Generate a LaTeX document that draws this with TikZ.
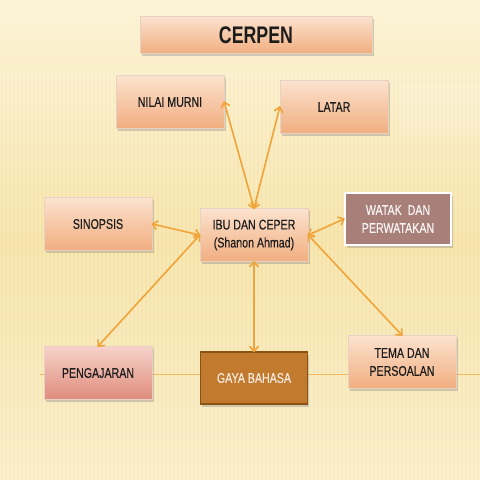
\documentclass[tikz,border=0pt]{standalone}
\usepackage{fontspec}
\setmainfont{Liberation Sans}[FakeStretch=0.76, FakeBold=0.3]
\newfontfamily\titlefont{Liberation Sans Bold}[FakeStretch=0.74]
\usetikzlibrary{arrows.meta,shadows}
\definecolor{bgtop}{HTML}{FCF4D8}
\definecolor{bgmid}{HTML}{F6E1A2}
\definecolor{bgbot}{HTML}{F9ECC4}
\definecolor{peachT}{HTML}{FCE2CE}
\definecolor{peachB}{HTML}{F1AE80}
\definecolor{pinkT}{HTML}{F7D2CA}
\definecolor{pinkB}{HTML}{DF8C7C}
\definecolor{mauve}{HTML}{A98079}
\definecolor{brown}{HTML}{C27A2E}
\definecolor{brownD}{HTML}{8A5314}
\definecolor{arrcol}{HTML}{F0A43A}
\definecolor{txt}{HTML}{1C1C1C}
\tikzset{
  box/.style={rectangle, minimum width=108pt, minimum height=53pt, inner sep=2pt,
    top color=peachT, bottom color=peachB, draw=peachB!80!black!40, line width=0.4pt,
    drop shadow={shadow xshift=1.5pt, shadow yshift=-2.5pt, opacity=0.35},
    text=txt, font=\fontsize{14}{18}\selectfont, align=center},
  pinkbox/.style={box, top color=pinkT, bottom color=pinkB},
  mauvebox/.style={box, fill=mauve, top color=mauve, bottom color=mauve, draw=white, line width=2pt, text=white!92!mauve},
  brownbox/.style={box, top color=brown, bottom color=brown, draw=brownD, line width=1.2pt, text=white!85!brown},
  arr/.style={draw=arrcol, line width=1.6pt, {Straight Barb[length=5pt,width=9pt]}-{Straight Barb[length=5pt,width=9pt]}, shorten <=-1pt, shorten >=-1pt}
}
\begin{document}
\begin{tikzpicture}[x=1pt,y=-1pt]
\useasboundingbox (0,0) rectangle (480,480);
\shade[top color=bgtop, bottom color=bgmid] (0,0) rectangle (480,240);
\shade[top color=bgmid, bottom color=bgbot] (0,240) rectangle (480,480);
\foreach \x in {0,4,...,480} \draw[white, opacity=0.22, line width=1.4pt] (\x,70) -- (\x,480);
\fill[white, opacity=0.12] (400,85) rectangle (480,135);
\draw[arrcol!80, line width=0.7pt] (40,374) -- (480,374);

\node[box, minimum width=232pt, minimum height=37pt, font=\titlefont\fontsize{24}{28}\selectfont] (cerpen) at (256,35) {CERPEN};
\node[box] (nilai) at (170,102) {NILAI MURNI};
\node[box] (latar) at (334,107) {LATAR};
\node[box] (sinopsis) at (98,224) {SINOPSIS};
\node[box] (ibu) at (254,235) {IBU DAN CEPER\\(Shanon Ahmad)};
\node[mauvebox, minimum width=106pt, minimum height=52pt] (watak) at (398,219) {WATAK~~DAN\\PERWATAKAN};
\node[pinkbox] (peng) at (98,373) {PENGAJARAN};
\node[brownbox, minimum width=107pt, minimum height=52pt] (gaya) at (254,378) {GAYA BAHASA};
\node[box] (tema) at (402,362) {TEMA DAN\\PERSOALAN};

\draw[arr] (nilai.east) -- (ibu.north);
\draw[arr] (latar.west) -- (ibu.north);
\draw[arr] (sinopsis.east) -- (ibu.west);
\draw[arr] (ibu.west) -- (peng.north);
\draw[arr] (ibu.south) -- (gaya.north);
\draw[arr] (ibu.east) -- (watak.west);
\draw[arr] (ibu.east) -- (tema.north);
\end{tikzpicture}
\end{document}
